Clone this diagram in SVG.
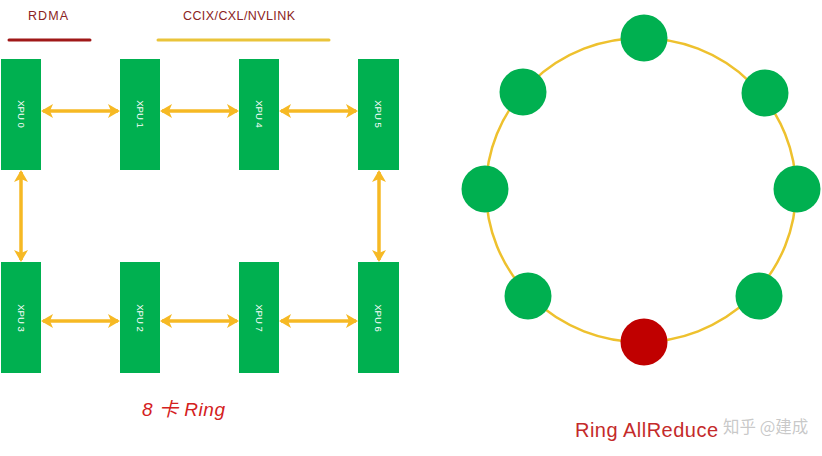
<svg xmlns="http://www.w3.org/2000/svg" width="822" height="456" viewBox="0 0 822 456">
<style>
.box{fill:#00B050}
.lbl{font-family:"Liberation Sans",Arial,sans-serif;font-size:9.5px;fill:#ffffff;text-anchor:middle;dominant-baseline:central}
.link{stroke:#F6B924;stroke-width:3.5;fill:none;marker-start:url(#ah);marker-end:url(#ah)}
.node{fill:#00B050}
</style>
<defs>
<marker id="ah" viewBox="0 0 12 14" refX="10" refY="7" markerWidth="12" markerHeight="14" markerUnits="userSpaceOnUse" orient="auto-start-reverse">
<path d="M0,0 L12,7 L0,14 L3,7 Z" fill="#F6B924"/>
</marker>
</defs>
<rect width="822" height="456" fill="#ffffff"/>
<g id="legend">
<text x="28" y="20" font-family="'Liberation Sans',Arial,sans-serif" font-size="12.5" fill="#8B2323" textLength="40">RDMA</text>
<line x1="9" y1="40" x2="90" y2="40" stroke="#A01818" stroke-width="3" stroke-linecap="round"/>
<text x="183" y="20" font-family="'Liberation Sans',Arial,sans-serif" font-size="12.5" fill="#8B2323" textLength="112">CCIX/CXL/NVLINK</text>
<line x1="158" y1="40" x2="329" y2="40" stroke="#EAC43A" stroke-width="3" stroke-linecap="round"/>
</g>
<g id="xpu0"><rect class="box" x="1" y="59" width="40" height="111"/><text class="lbl" transform="translate(21,114) rotate(90)">XPU 0</text></g>
<g id="xpu1"><rect class="box" x="120" y="59" width="40" height="111"/><text class="lbl" transform="translate(140,114) rotate(90)">XPU 1</text></g>
<g id="xpu4"><rect class="box" x="239" y="59" width="40" height="111"/><text class="lbl" transform="translate(259,114) rotate(90)">XPU 4</text></g>
<g id="xpu5"><rect class="box" x="358" y="59" width="41" height="111"/><text class="lbl" transform="translate(378.5,114) rotate(90)">XPU 5</text></g>
<g id="xpu3"><rect class="box" x="1" y="262" width="40" height="111"/><text class="lbl" transform="translate(21,318) rotate(90)">XPU 3</text></g>
<g id="xpu2"><rect class="box" x="120" y="262" width="40" height="111"/><text class="lbl" transform="translate(140,318) rotate(90)">XPU 2</text></g>
<g id="xpu7"><rect class="box" x="239" y="262" width="40" height="111"/><text class="lbl" transform="translate(259,318) rotate(90)">XPU 7</text></g>
<g id="xpu6"><rect class="box" x="358" y="262" width="41" height="111"/><text class="lbl" transform="translate(378.5,318) rotate(90)">XPU 6</text></g>
<g id="connectors">
<line class="link" x1="43" y1="111" x2="118" y2="111"/>
<line class="link" x1="162" y1="111" x2="237" y2="111"/>
<line class="link" x1="281" y1="111" x2="356" y2="111"/>
<line class="link" x1="43" y1="321" x2="118" y2="321"/>
<line class="link" x1="162" y1="321" x2="237" y2="321"/>
<line class="link" x1="281" y1="321" x2="356" y2="321"/>
<line class="link" x1="21" y1="172" x2="21" y2="260"/>
<line class="link" x1="379" y1="172" x2="379" y2="260"/>
</g>
<text x="142" y="416" font-family="'Liberation Sans','Noto Sans CJK SC',sans-serif" font-size="19" font-style="italic" fill="#D42020" textLength="83">8 卡 Ring</text>
<g id="ring">
<ellipse cx="641" cy="190" rx="155" ry="152" fill="none" stroke="#EEC12E" stroke-width="2.5"/>
</g>
<g id="n0"><circle class="node" cx="644" cy="38" r="23.5"/></g>
<g id="n1"><circle class="node" cx="765" cy="93" r="23.5"/></g>
<g id="n2"><circle class="node" cx="797" cy="189" r="23.5"/></g>
<g id="n3"><circle class="node" cx="759" cy="296" r="23.5"/></g>
<g id="n4"><circle cx="644" cy="342" r="23.5" fill="#C00000"/></g>
<g id="n5"><circle class="node" cx="528" cy="296" r="23.5"/></g>
<g id="n6"><circle class="node" cx="485" cy="189" r="23.5"/></g>
<g id="n7"><circle class="node" cx="523" cy="92" r="23.5"/></g>
<text x="575" y="437" font-family="'Liberation Sans',Arial,sans-serif" font-size="20" fill="#C42A2A" textLength="143">Ring AllReduce</text>
<text x="723" y="433" font-family="'Noto Sans CJK SC','Noto Sans',sans-serif" font-size="16.5" fill="#9a9a9a" fill-opacity="0.55">知乎 @建成</text>
</svg>
